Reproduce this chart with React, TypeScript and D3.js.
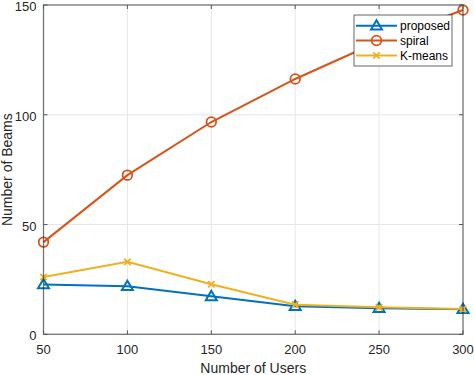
import React from "react";
import * as d3 from "d3";

const users = [50, 100, 150, 200, 250, 300];
const proposed = [22.7, 21.9, 17.3, 12.8, 11.9, 11.4];
const spiral = [42, 72.5, 96.7, 116.3, 133.5, 147.7];
const kmeans = [26.1, 33, 22.8, 13.5, 12.3, 11.5];
const xTicks = [50, 100, 150, 200, 250, 300];
const yTicks = [0, 50, 100, 150];

const W = 474, H = 375;
const L = 43.5, R = 463, T = 5, B = 334.3;
const FONT = "Liberation Sans, Arial, Helvetica, sans-serif";

const series = [
  { name: "proposed", values: proposed, color: "#0072BD", marker: "tri" },
  { name: "spiral", values: spiral, color: "#D95319", marker: "circle" },
  { name: "K-means", values: kmeans, color: "#EDB120", marker: "x" },
];

function Marker({ type, x, y, color }: { type: string; x: number; y: number; color: string }) {
  if (type === "tri") {
    const s = 5.5;
    return (
      <path
        d={`M${x},${y - s} L${x + s},${y + s * 0.7} L${x - s},${y + s * 0.7} Z`}
        fill="none"
        stroke={color}
        strokeWidth={2}
      />
    );
  }
  if (type === "circle") {
    return <circle cx={x} cy={y} r={4.8} fill="none" stroke={color} strokeWidth={1.8} />;
  }
  const s = 3.2;
  return (
    <path
      d={`M${x - s},${y - s} L${x + s},${y + s} M${x - s},${y + s} L${x + s},${y - s}`}
      stroke={color}
      strokeWidth={1.8}
    />
  );
}

export default function App() {
  const x = d3.scaleLinear().domain([50, 300]).range([L, R]);
  const y = d3.scaleLinear().domain([0, 150]).range([B, T]);
  const line = d3
    .line<number>()
    .x((_, i) => x(users[i]))
    .y((d) => y(d));

  const legX = 354, legY = 15, legW = 98, legH = 51;
  const legRows = [25.7, 40.5, 55.5];

  return (
    <svg
      width={W}
      height={H}
      style={{ position: "absolute", left: 0, top: 0, background: "#fff" }}
      fontFamily={FONT}
    >
      <rect x={0} y={0} width={W} height={H} fill="#fff" />
      {/* grid */}
      {xTicks.map((t) => (
        <line key={"gx" + t} x1={x(t)} x2={x(t)} y1={T} y2={B} stroke="#e6e6e6" strokeWidth={1} />
      ))}
      {yTicks.map((t) => (
        <line key={"gy" + t} x1={L} x2={R} y1={y(t)} y2={y(t)} stroke="#e6e6e6" strokeWidth={1} />
      ))}
      {/* series */}
      {series.map((s) => (
        <g key={s.name}>
          <path d={line(s.values) || ""} fill="none" stroke={s.color} strokeWidth={2} />
          {s.values.map((v, i) => (
            <Marker key={i} type={s.marker} x={x(users[i])} y={y(v)} color={s.color} />
          ))}
        </g>
      ))}
      {/* axes box */}
      <rect x={L} y={T} width={R - L} height={B - T} fill="none" stroke="#262626" strokeOpacity={0.6} strokeWidth={1.3} />
      {xTicks.map((t) => (
        <g key={"tx" + t}>
          <line x1={x(t)} x2={x(t)} y1={B} y2={B - 4} stroke="#555" />
          <line x1={x(t)} x2={x(t)} y1={T} y2={T + 4} stroke="#555" />
          <text x={x(t)} y={349} textAnchor="middle" dominantBaseline="central" fontSize={13} fill="#262626">
            {t}
          </text>
        </g>
      ))}
      {yTicks.map((t) => (
        <g key={"ty" + t}>
          <line x1={L} x2={L + 4} y1={y(t)} y2={y(t)} stroke="#555" />
          <line x1={R} x2={R - 4} y1={y(t)} y2={y(t)} stroke="#555" />
          <text x={L - 7} y={y(t) + 1.5} textAnchor="end" dominantBaseline="central" fontSize={13} fill="#262626">
            {t}
          </text>
        </g>
      ))}
      <text x={(L + R) / 2} y={368} textAnchor="middle" dominantBaseline="central" fontSize={14} fill="#262626">
        Number of Users
      </text>
      <text
        transform={`translate(7,${(T + B) / 2}) rotate(-90)`}
        textAnchor="middle"
        dominantBaseline="central"
        fontSize={14}
        fill="#262626"
      >
        Number of Beams
      </text>
      {/* legend */}
      <rect x={legX} y={legY} width={legW} height={legH} fill="#fff" stroke="#262626" strokeOpacity={0.7} strokeWidth={1} />
      {series.map((s, i) => (
        <g key={"leg" + s.name}>
          <line x1={356} x2={397} y1={legRows[i]} y2={legRows[i]} stroke={s.color} strokeWidth={2} />
          <Marker type={s.marker} x={376.5} y={legRows[i]} color={s.color} />
          <text x={400} y={legRows[i]} dominantBaseline="central" fontSize={12} fill="#000">
            {s.name}
          </text>
        </g>
      ))}
    </svg>
  );
}
